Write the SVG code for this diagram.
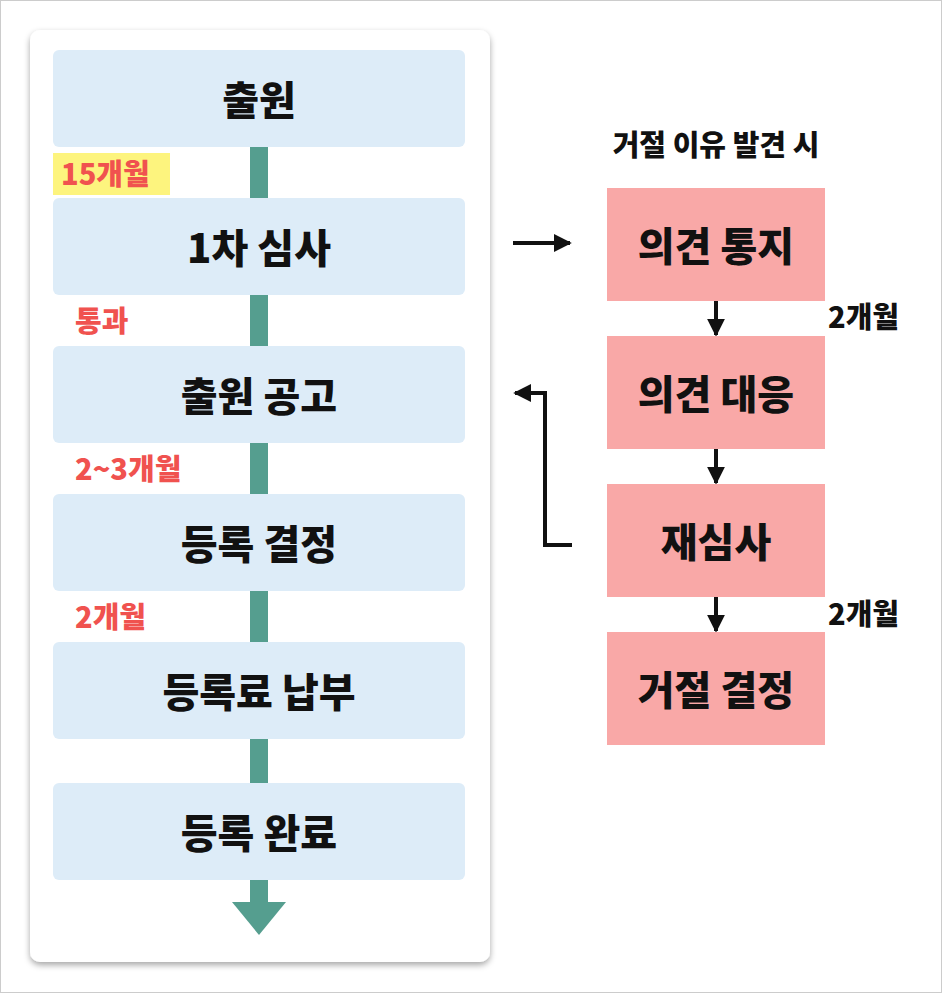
<svg xmlns="http://www.w3.org/2000/svg" width="942" height="993" viewBox="0 0 942 993">
<style>
text{font-family:"Noto Sans CJK KR","Noto Sans",sans-serif;font-weight:900}
.b{fill:#ddecf8}
.p{fill:#f9a8a7}
.t{font-size:40px;fill:#111;text-anchor:middle;dominant-baseline:central}
.r{font-size:29px;fill:#f0524f}
.k{font-size:29px;fill:#111}
.bar{fill:#559e8f}
</style>
<defs>
<filter id="sh" x="-5%" y="-5%" width="110%" height="110%"><feDropShadow dx="0" dy="3" stdDeviation="3" flood-color="#000" flood-opacity="0.35"/></filter>
<marker id="ah" viewBox="0 0 10 10" refX="9" refY="5" markerWidth="4.5" markerHeight="4.5" orient="auto-start-reverse"><path d="M0,0L10,5L0,10z" fill="#111"/></marker>
</defs>
<rect x="0.5" y="0.5" width="941" height="992" fill="#fff" stroke="#ccc"/>
<rect x="30" y="30" width="460" height="932" rx="10" fill="#fff" filter="url(#sh)"/>
<g id="connectors">
<rect class="bar" x="250" y="147" width="18" height="51"/>
<rect class="bar" x="250" y="295" width="18" height="51"/>
<rect class="bar" x="250" y="443" width="18" height="51"/>
<rect class="bar" x="250" y="591" width="18" height="51"/>
<rect class="bar" x="250" y="739" width="18" height="44"/>
<rect class="bar" x="250" y="880" width="18" height="24"/>
<path class="bar" d="M232,902H286L259,935z"/>
<g stroke="#111" stroke-width="4" fill="none" marker-end="url(#ah)">
<line x1="513" y1="243" x2="570" y2="243"/>
<line x1="716" y1="293" x2="716" y2="335"/>
<line x1="716" y1="441" x2="716" y2="483"/>
<line x1="716" y1="589" x2="716" y2="631"/>
<path d="M572,545H545V393H515"/>
</g>
</g>
<g id="n1"><rect class="b" x="53" y="50" width="412" height="97" rx="6"/><text class="t" x="259" y="98">출원</text></g>
<g id="n2"><rect class="b" x="53" y="198" width="412" height="97" rx="6"/><text class="t" x="259" y="246">1차 심사</text></g>
<g id="n3"><rect class="b" x="53" y="346" width="412" height="97" rx="6"/><text class="t" x="259" y="394">출원 공고</text></g>
<g id="n4"><rect class="b" x="53" y="494" width="412" height="97" rx="6"/><text class="t" x="259" y="542">등록 결정</text></g>
<g id="n5"><rect class="b" x="53" y="642" width="412" height="97" rx="6"/><text class="t" x="259" y="690">등록료 납부</text></g>
<g id="n6"><rect class="b" x="53" y="783" width="412" height="97" rx="6"/><text class="t" x="259" y="831">등록 완료</text></g>
<g id="labels">
<rect x="53" y="153" width="117" height="42" fill="#fdf47e"/>
<text class="r" x="61" y="185">15개월</text>
<text class="r" x="75" y="332">통과</text>
<text class="r" x="75" y="480">2~3개월</text>
<text class="r" x="75" y="628">2개월</text>
<text class="k" x="716" y="156" text-anchor="middle">거절 이유 발견 시</text>
<text class="k" x="828" y="328">2개월</text>
<text class="k" x="828" y="625">2개월</text>
</g>
<g id="r1"><rect class="p" x="607" y="188" width="218" height="113"/><text class="t" x="716" y="244">의견 통지</text></g>
<g id="r2"><rect class="p" x="607" y="336" width="218" height="113"/><text class="t" x="716" y="392">의견 대응</text></g>
<g id="r3"><rect class="p" x="607" y="484" width="218" height="113"/><text class="t" x="716" y="540">재심사</text></g>
<g id="r4"><rect class="p" x="607" y="632" width="218" height="113"/><text class="t" x="716" y="688">거절 결정</text></g>
</svg>
